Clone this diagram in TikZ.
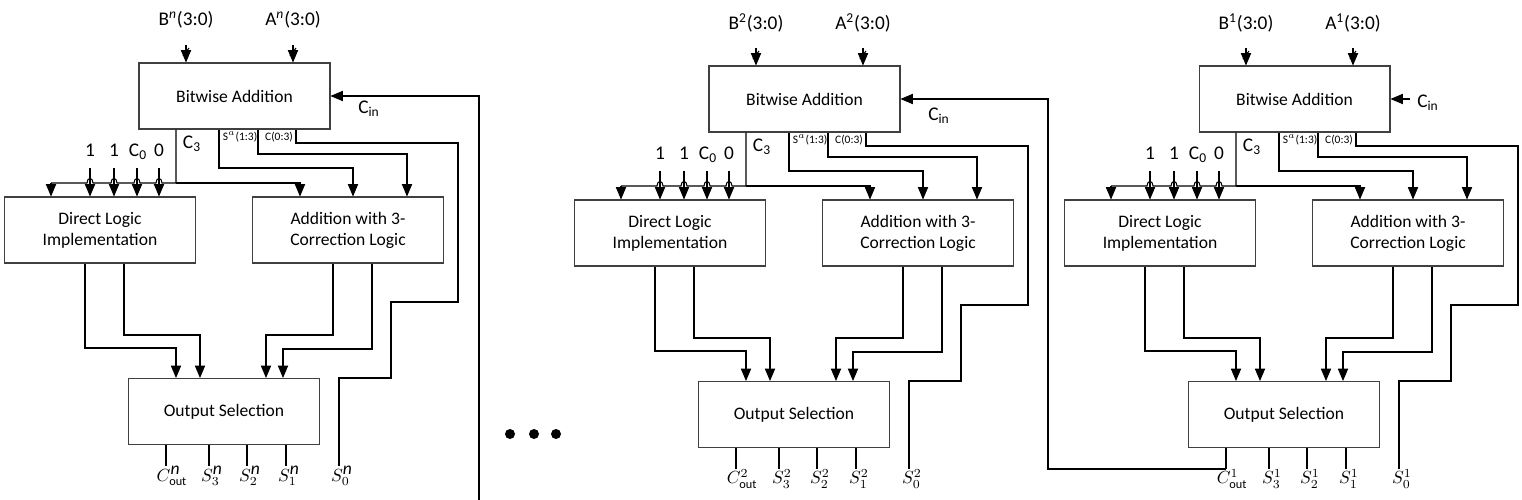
\documentclass[tikz,border=0pt]{standalone}
\usepackage{fontspec}
\setmainfont{Carlito}
\usetikzlibrary{arrows}

% one adder stage: #1 prefix, #2 x shift, #3 y shift, #4 superscript
\newcommand{\addstage}[4]{%
\begin{scope}[shift={(#2,#3)}]
  % blocks
  \node (#1bw) [box] at (234.5,96) {Bitwise Addition};
  \node (#1dl) [box] at (100,230) {Direct Logic\\Implementation};
  \node (#1ac) [box] at (348,230) {Addition with 3-\\Correction Logic};
  \node (#1os) [box] at (224,411.5) {Output Selection};
  \coordinate (#1cr) at (478,96);
  \coordinate (#1co) at (166,466);

  % operand inputs
  \node (#1b) [big] at (186,20) {B\textsuperscript{#4}(3:0)};
  \node (#1a) [big] at (293,20) {A\textsuperscript{#4}(3:0)};
  \draw [arrow] (186,45) -- (186,0 |- #1bw.north);
  \draw [arrow] (293,45) -- (293,0 |- #1bw.north);
  \draw (183,56) -- (189,48);
  \draw (290,56) -- (296,48);

  % bitwise outputs
  \node (#1c3) [big] at (192,144) {C\textsubscript{3}};
  \node (#1sa) [small] at (240,137) {S$^{a}$(1:3)};
  \node (#1c03) [small] at (279,137) {C(0:3)};
  \draw (176,0 |- #1bw.south) -- (176,183) -- (162,183)
    .. controls (162,177) and (156,177) .. (156,183) -- (140,183)
    .. controls (140,177) and (134,177) .. (134,183) -- (117,183)
    .. controls (117,177) and (111,177) .. (111,183) -- (93,183)
    .. controls (93,177) and (87,177) .. (87,183) -- (51,183);
  \draw [arrow] (51,183) -- (51,0 |- #1dl.north);
  \draw [arrow] (176,183) -- (300,183) -- (300,0 |- #1ac.north);
  \draw [arrow] (219,0 |- #1bw.south) -- (219,168) -- (353,168) -- (353,0 |- #1ac.north);
  \draw [arrow] (258,0 |- #1bw.south) -- (258,154) -- (407,154) -- (407,0 |- #1ac.north);

  % constant inputs
  \node (#1k1) [big] at (90,150) {1};
  \node (#1k2) [big] at (114,150) {1};
  \node (#1k3) [big] at (138,152) {C\textsubscript{0}};
  \node (#1k4) [big] at (159,150) {0};
  \foreach \x in {90,114,137,159}
    \draw [arrow] (\x,168) -- (\x,0 |- #1dl.north);

  % into output selection
  \draw [arrow] (85,0 |- #1dl.south) -- (85,348) -- (176,348) -- (176,0 |- #1os.north);
  \draw [arrow] (124,0 |- #1dl.south) -- (124,335) -- (200,335) -- (200,0 |- #1os.north);
  \draw [arrow] (333,0 |- #1ac.south) -- (333,335) -- (266,335) -- (266,0 |- #1os.north);
  \draw [arrow] (372,0 |- #1ac.south) -- (372,349) -- (283,349) -- (283,0 |- #1os.north);

  % outputs
  \node (#1cout) [outl] at (172,476) {$C^{#4}_{\mathrm{out}}$};
  \node (#1s3) [outl] at (212,476) {$S^{#4}_{3}$};
  \node (#1s2) [outl] at (250,476) {$S^{#4}_{2}$};
  \node (#1s1) [outl] at (289,476) {$S^{#4}_{1}$};
  \node (#1s0) [outl] at (342,476) {$S^{#4}_{0}$};
  \draw (166,0 |- #1os.south) -- (#1co);
  \foreach \x/\s in {209/s3,247/s2,286/s1}
    \draw (\x,0 |- #1os.south) -- (\x,0 |- #1\s.north);
  \draw (296,0 |- #1bw.south) -- (296,143) -- (458,143) -- (458,302) -- (391,302)
    -- (391,378) -- (339,378) -- (339,0 |- #1s0.north);
\end{scope}}

\begin{document}
\begin{tikzpicture}[x=0.02cm, y=-0.02cm, font=\fontsize{10}{12}\selectfont, line width=0.6pt]
  \tikzstyle{box} = [rectangle, draw=black!75, minimum width=3.82cm, minimum height=1.32cm, align=center, inner sep=1pt]
  \tikzstyle{small} = [font=\fontsize{6.5}{7}\selectfont, inner sep=0pt]
  \tikzstyle{big} = [font=\fontsize{11}{13}\selectfont, inner sep=1pt]
  \tikzstyle{outl} = [inner sep=0pt]
  \tikzstyle{arrow} = [->, >=triangle 45]

  \useasboundingbox (0,0) rectangle (1522,500);

  % the three stages
  \addstage{n}{0}{0}{\textit{n}}
  \addstage{two}{570}{3}{2}
  \addstage{one}{1060}{3}{1}

  % carry in lines
  \coordinate (nend) at (479,500);
  \draw [arrow] (nend) |- (nbw.east);
  \node (ncin) [big] at (369,109) {C\textsubscript{in}};
  \draw [arrow] (oneco) -| (twocr) -- (twobw.east);
  \node (twocin) [big] at (939,116) {C\textsubscript{in}};
  \coordinate (onecr) at (1410,99);
  \draw [arrow] (onecr) -- (onebw.east);
  \node (onecin) [big] at (1428,103) {C\textsubscript{in}};

  % dots
  \foreach \x in {510,534,556}
    \fill (\x,434) circle[radius=0.1cm];
\end{tikzpicture}
\end{document}
